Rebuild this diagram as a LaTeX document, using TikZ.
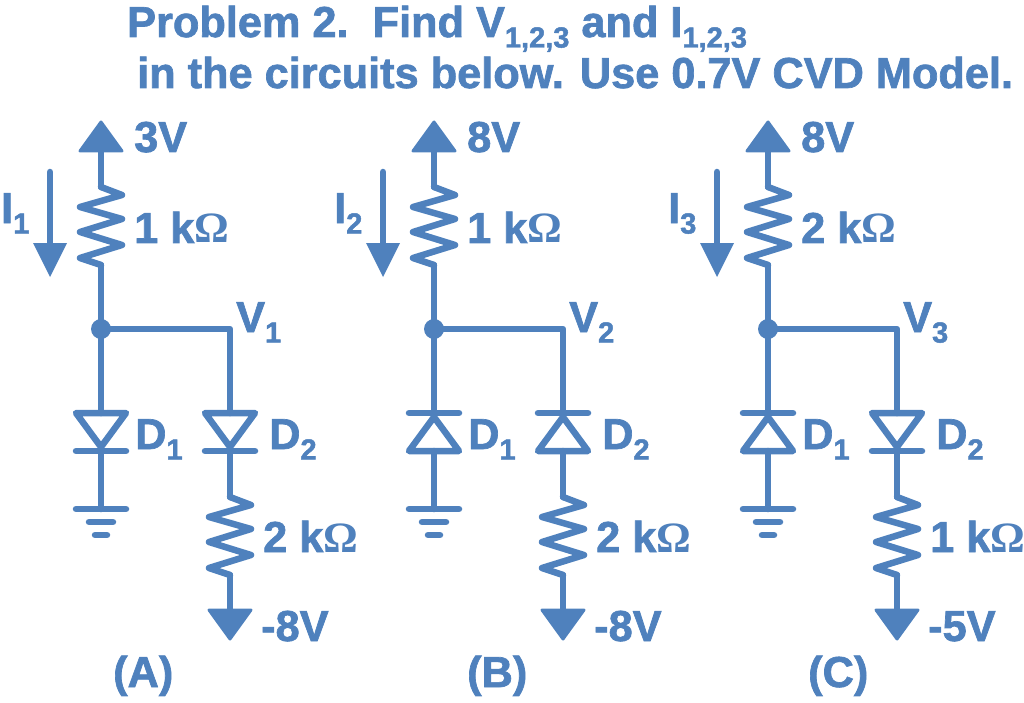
\documentclass[tikz,border=0pt]{standalone}
\usepackage{fontspec}
\usepackage{tikz}
\setmainfont[UprightFont=* Bold,FakeBold=1.6]{Liberation Sans}
\newfontfamily\ohmfont[UprightFont=* Bold]{Liberation Serif}
\definecolor{circuitblue}{RGB}{79,129,189}
\newcommand{\ohm}{{\ohmfont\char"03A9}}
\newcommand{\low}[1]{\raisebox{-10.5pt}{\fontsize{29}{29}\selectfont #1}}
\tikzset{
  wire/.style={draw=circuitblue,line width=6.5pt,line join=round,line cap=round},
  head/.style={draw=circuitblue,fill=circuitblue,line width=3pt,line join=round},
  txt/.style={text=circuitblue,inner sep=0pt,anchor=base west,font=\fontsize{43.3}{43.3}\selectfont},
  pics/resistor/.style={code={
    \draw[wire] (0,0) -- (21,8) -- (-21,20) -- (21,32) -- (-21,45) -- (21,58) -- (-21,71) -- (0,78);
  }},
  pics/dioded/.style={code={
    \draw[wire] (-25,0) -- (25,0) -- (0,34) -- cycle;
    \draw[wire] (-25,38) -- (25,38);
  }},
  pics/diodeu/.style={code={
    \draw[wire] (-25,38) -- (25,38) -- (0,4) -- cycle;
    \draw[wire] (-25,0) -- (25,0);
  }},
  pics/gnd/.style={code={
    \draw[wire] (-25,0) -- (25,0);
    \draw[wire] (-12,13) -- (12,13);
    \draw[wire] (-6,26) -- (6,26);
  }},
  pics/uphead/.style={code={\draw[head] (0,0) -- (-21,29) -- (21,29) -- cycle;}},
  pics/downhead/.style={code={\draw[head] (0,0) -- (-21,-29) -- (21,-29) -- cycle;}},
  pics/current/.style={code={
    \draw[wire] (0,0) -- (0,72);
    \fill[circuitblue] (-17,71) -- (17,71) -- (0,105) -- cycle;
  }},
}

\begin{document}
\begin{tikzpicture}[x=1pt,y=-1pt]
  \useasboundingbox (0,0) rectangle (1024,703);
  \node[txt] (title1) at (127,37) {Problem 2.\ \ Find V\low{1,2,3} and I\low{1,2,3}};
  \node[txt] (title2) at (137,88) {in the circuits below. Use 0.7V CVD Model.};

  % circuit A
  \begin{scope}[shift={(101,0)}]
    \coordinate (topA) at (0,150);
    \coordinate (r1Atop) at (0,187);
    \coordinate (r1Abot) at (0,265);
    \coordinate (nodeA) at (0,329);
    \coordinate (cornerA) at (129,329);
    \coordinate (d1Atop) at (0,413);
    \coordinate (d1Abot) at (0,451);
    \coordinate (gndA) at (0,509);
    \coordinate (d2Atop) at (129,413);
    \coordinate (d2Abot) at (129,451);
    \coordinate (r2Atop) at (129,497);
    \coordinate (r2Abot) at (129,575);
    \coordinate (endA) at (129,610);
    \draw[wire] (topA) -- (r1Atop);
    \draw[wire] (r1Abot) -- (d1Atop);
    \draw[wire] (nodeA) -- (cornerA) -- (d2Atop);
    \draw[wire] (d1Abot) -- (gndA);
    \draw[wire] (d2Abot) -- (r2Atop);
    \draw[wire] (r2Abot) -- (endA);
    \fill[circuitblue] (nodeA) circle (10);
    \pic at (0,122) {uphead};
    \pic at (r1Atop) {resistor};
    \pic at (d1Atop) {dioded};
    \pic at (d2Atop) {dioded};
    \pic at (gndA) {gnd};
    \pic at (r2Atop) {resistor};
    \pic at (129,639) {downhead};
    \pic at (-51,172) {current};
    \node[txt] (v3A) at (33,152) {3V};
    \node[txt] (i1) at (-100,223) {I\low{1}};
    \node[txt] (r1A) at (33,243) {1 k\ohm};
    \node[txt] (v1) at (135,332) {V\low{1}};
    \node[txt] (d1A) at (34,449) {D\low{1}};
    \node[txt] (d2A) at (168,449) {D\low{2}};
    \node[txt] (r2A) at (162,552) {2 k\ohm};
    \node[txt] (v8A) at (160,641) {-8V};
    \node[txt] (labA) at (12,687) {(A)};
  \end{scope}

  % circuit B
  \begin{scope}[shift={(434,0)}]
    \coordinate (topB) at (0,150);
    \coordinate (r1Btop) at (0,187);
    \coordinate (r1Bbot) at (0,265);
    \coordinate (nodeB) at (0,329);
    \coordinate (cornerB) at (129,329);
    \coordinate (d1Btop) at (0,413);
    \coordinate (d1Bbot) at (0,451);
    \coordinate (gndB) at (0,509);
    \coordinate (d2Btop) at (129,413);
    \coordinate (d2Bbot) at (129,451);
    \coordinate (r2Btop) at (129,497);
    \coordinate (r2Bbot) at (129,575);
    \coordinate (endB) at (129,610);
    \draw[wire] (topB) -- (r1Btop);
    \draw[wire] (r1Bbot) -- (d1Btop);
    \draw[wire] (nodeB) -- (cornerB) -- (d2Btop);
    \draw[wire] (d1Bbot) -- (gndB);
    \draw[wire] (d2Bbot) -- (r2Btop);
    \draw[wire] (r2Bbot) -- (endB);
    \fill[circuitblue] (nodeB) circle (10);
    \pic at (0,122) {uphead};
    \pic at (r1Btop) {resistor};
    \pic at (d1Btop) {diodeu};
    \pic at (d2Btop) {diodeu};
    \pic at (gndB) {gnd};
    \pic at (r2Btop) {resistor};
    \pic at (129,639) {downhead};
    \pic at (-51,172) {current};
    \node[txt] (v8top) at (33,152) {8V};
    \node[txt] (i2) at (-100,223) {I\low{2}};
    \node[txt] (r1B) at (33,243) {1 k\ohm};
    \node[txt] (v2) at (135,332) {V\low{2}};
    \node[txt] (d1B) at (34,449) {D\low{1}};
    \node[txt] (d2B) at (168,449) {D\low{2}};
    \node[txt] (r2B) at (162,552) {2 k\ohm};
    \node[txt] (v8B) at (160,641) {-8V};
    \node[txt] (labB) at (33,687) {(B)};
  \end{scope}

  % circuit C
  \begin{scope}[shift={(768,0)}]
    \coordinate (topC) at (0,150);
    \coordinate (r1Ctop) at (0,187);
    \coordinate (r1Cbot) at (0,265);
    \coordinate (nodeC) at (0,329);
    \coordinate (cornerC) at (129,329);
    \coordinate (d1Ctop) at (0,413);
    \coordinate (d1Cbot) at (0,451);
    \coordinate (gndC) at (0,509);
    \coordinate (d2Ctop) at (129,413);
    \coordinate (d2Cbot) at (129,451);
    \coordinate (r2Ctop) at (129,497);
    \coordinate (r2Cbot) at (129,575);
    \coordinate (endC) at (129,610);
    \draw[wire] (topC) -- (r1Ctop);
    \draw[wire] (r1Cbot) -- (d1Ctop);
    \draw[wire] (nodeC) -- (cornerC) -- (d2Ctop);
    \draw[wire] (d1Cbot) -- (gndC);
    \draw[wire] (d2Cbot) -- (r2Ctop);
    \draw[wire] (r2Cbot) -- (endC);
    \fill[circuitblue] (nodeC) circle (10);
    \pic at (0,122) {uphead};
    \pic at (r1Ctop) {resistor};
    \pic at (d1Ctop) {diodeu};
    \pic at (d2Ctop) {dioded};
    \pic at (gndC) {gnd};
    \pic at (r2Ctop) {resistor};
    \pic at (129,639) {downhead};
    \pic at (-51,172) {current};
    \node[txt] (v8C) at (33,152) {8V};
    \node[txt] (i3) at (-100,223) {I\low{3}};
    \node[txt] (r1C) at (33,243) {2 k\ohm};
    \node[txt] (v3) at (135,332) {V\low{3}};
    \node[txt] (d1C) at (34,449) {D\low{1}};
    \node[txt] (d2C) at (168,449) {D\low{2}};
    \node[txt] (r2C) at (162,552) {1 k\ohm};
    \node[txt] (v5C) at (160,641) {-5V};
    \node[txt] (labC) at (40,687) {(C)};
  \end{scope}
\end{tikzpicture}
\end{document}
